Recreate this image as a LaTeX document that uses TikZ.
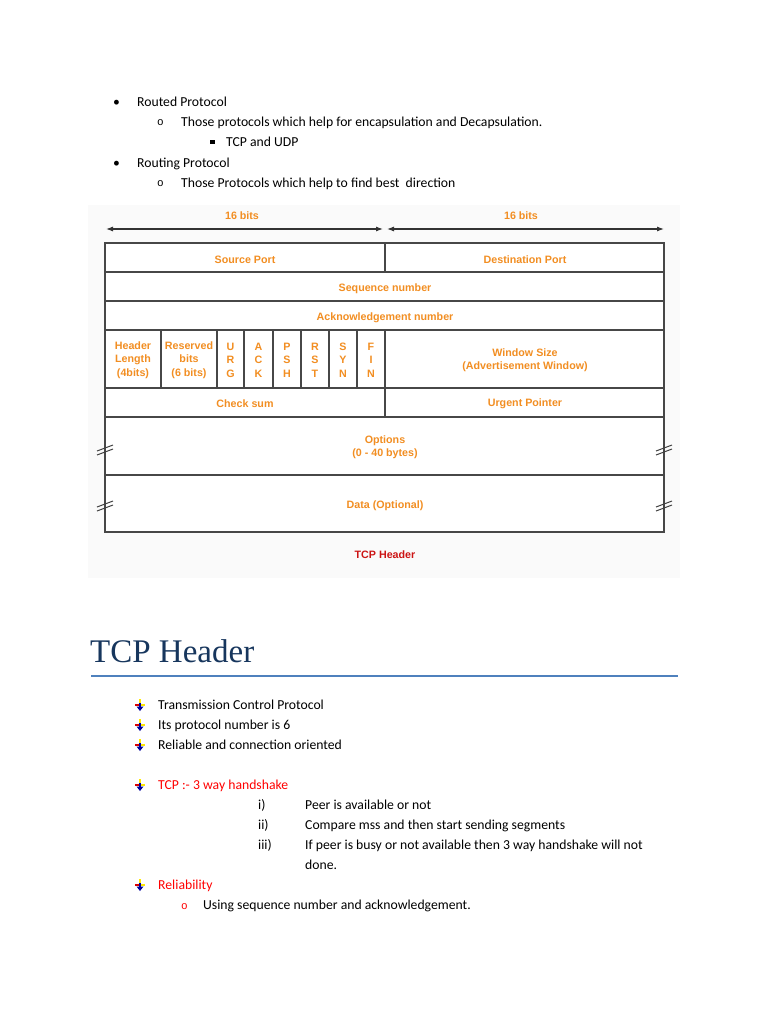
\documentclass[tikz,border=0pt]{standalone}
\usepackage{fontspec}
\setmainfont{Carlito}
\newfontfamily\figfont{Liberation Sans}
\newfontfamily\titlefont{Liberation Serif}
\newfontfamily\monofont{Liberation Mono}
\usetikzlibrary{arrows.meta,positioning}

\definecolor{fieldorange}{RGB}{242,142,34}
\definecolor{captionred}{RGB}{204,20,20}
\definecolor{titleblue}{RGB}{23,54,93}
\definecolor{ruleblue}{RGB}{79,129,189}

% kleiner bunter Pfeil als Aufzaehlungszeichen
\newcommand{\listicon}[2]{%
  \fill[yellow!90!orange] (#1-1,#2-6) rectangle (#1+1,#2-1);
  \fill[red!85!black] (#1-5,#2-1.3) rectangle (#1,#2+1.3);
  \fill[yellow!90!orange] (#1,#2-1.3) rectangle (#1+5,#2+1.3);
  \fill[blue!60!black] (#1-1.1,#2-2) rectangle (#1+1.1,#2+2);
  \fill[blue!60!black] (#1-3.5,#2+1.5) -- (#1+3.5,#2+1.5) -- (#1,#2+6) -- cycle;
}
% Bruchzeichen am Rand
\newcommand{\breakmark}[2]{%
  \draw[black!75, line width=1pt] (#1-8,#2+1) -- (#1+8,#2-5);
  \draw[black!75, line width=1pt] (#1-8,#2+5) -- (#1+8,#2-1);
}

\begin{document}
\begin{tikzpicture}[x=1pt,y=-1pt,
    cell/.style={draw=black!72, line width=1.1pt},
    field/.style={text=fieldorange, font=\figfont\bfseries\fontsize{10.7}{13.5}\selectfont, align=center, inner sep=0pt},
    body/.style={anchor=base west, inner sep=0pt, font=\fontsize{13.7}{16}\selectfont},
    dimarrow/.style={{Latex[length=7pt,width=5pt]}-{Latex[length=7pt,width=5pt]}, line width=1.1pt, black!80}]
\useasboundingbox (0,0) rectangle (768,1024);

% erste Liste
\node[body] (b1) at (113,106.5) {•};
\node[body] (routed) at (137,106.5) {Routed Protocol};
\node[body, font=\monofont\fontsize{11}{13}\selectfont] (b2) at (157,126) {o};
\node[body] (routeddesc) at (181,126.5) {Those protocols which help for encapsulation and Decapsulation.};
\fill (210,140) rectangle (214.5,144.5);
\node[body] (tcpudp) at (226,146.5) {TCP and UDP};
\node[body] (b3) at (113,167.5) {•};
\node[body] (routing) at (137,167.5) {Routing Protocol};
\node[body, font=\monofont\fontsize{11}{13}\selectfont] (b4) at (157,187) {o};
\node[body] (routingdesc) at (181,187.5) {Those Protocols which help to find best\ \ direction};

% Hintergrund der Abbildung
\fill[black!2] (88,205) rectangle (680,578);

% 16 bits Pfeile
\coordinate (la) at (106,229);
\coordinate (lb) at (383,229);
\coordinate (ra) at (387,229);
\coordinate (rb) at (664,229);
\draw[dimarrow] (la) -- (lb);
\draw[dimarrow] (ra) -- (rb);
\node[field] (lbits) at (242,216) {16 bits};
\node[field] (rbits) at (521,216) {16 bits};

% Tabelle
\fill[white] (105,243) rectangle (664,532);
\draw[cell] (105,243) rectangle (664,532);
\foreach \y in {272,301,330,388,417}
  \draw[cell] (105,\y) -- (664,\y);
\draw[cell, line width=1.5pt] (105,475) -- (664,475);
\draw[cell] (385,243) -- (385,272);
\draw[cell] (385,330) -- (385,417);
\foreach \x in {161,217,244,273,301,329,357}
  \draw[cell] (\x,330) -- (\x,388);

% Felder
\node[field] (srcport) at (245,259.5) {Source Port};
\node[field] (dstport) at (525,259.5) {Destination Port};
\node[field] (seqnum) at (385,288.5) {Sequence number};
\node[field] (acknum) at (385,317.5) {Acknowledgement number};
\node[field] (hdrlen) at (133,360) {Header\\Length\\(4bits)};
\node[field] (reserved) at (189,360) {Reserved\\bits\\(6 bits)};
\foreach \x/\f [count=\i] in {230.5/{U\\R\\G}, 258.5/{A\\C\\K}, 287/{P\\S\\H},
                              315/{R\\S\\T}, 343/{S\\Y\\N}, 371/{F\\I\\N}}
  \node[field] (flag\i) at (\x,360) {\f};
\node[field] (window) at (525,360) {Window Size\\(Advertisement Window)};
\node[field] (checksum) at (245,403.5) {Check sum};
\node[field] (urgent) at (525,403.5) {Urgent Pointer};
\node[field] (options) at (385,447) {Options\\(0 - 40 bytes)};
\node[field] (data) at (385,505.5) {Data (Optional)};
\node[field, text=captionred] (caption) at (385,554.5) {TCP Header};

% Bruchzeichen
\breakmark{105}{450}
\breakmark{105}{506}
\breakmark{664}{450}
\breakmark{664}{506}

% Ueberschrift
\node[anchor=base west, inner sep=0pt, text=titleblue, font=\titlefont\fontsize{33}{38}\selectfont] (heading) at (90,662) {TCP Header};
\draw[ruleblue, line width=1.3pt] (91,676) -- (678,676);

% zweite Liste
\foreach \y in {705,725,745,785,885} {
  \listicon{140}{\y}
}
\node[body] (tcpname) at (158,709.5) {Transmission Control Protocol};
\node[body] (protonum) at (158,729.5) {Its protocol number is 6};
\node[body] (reliable) at (158,749.5) {Reliable and connection oriented};
\node[body, text=red] (handshake) at (158,789.5) {TCP :- 3 way handshake};
\node[body] (r1) at (258,809.5) {i)};
\node[body] (step1) at (305,809.5) {Peer is available or not};
\node[body] (r2) at (258,829.5) {ii)};
\node[body] (step2) at (305,829.5) {Compare mss and then start sending segments};
\node[body] (r3) at (258,849.5) {iii)};
\node[body] (step3) at (305,849.5) {If peer is busy or not available then 3 way handshake will not};
\node[body] (step3b) at (305,869.5) {done.};
\node[body, text=red] (reliability) at (158,889.5) {Reliability};
\node[body, text=red, font=\monofont\fontsize{11}{13}\selectfont] (b5) at (181,909) {o};
\node[body] (seqack) at (203,909.5) {Using sequence number and acknowledgement.};
\end{tikzpicture}
\end{document}
